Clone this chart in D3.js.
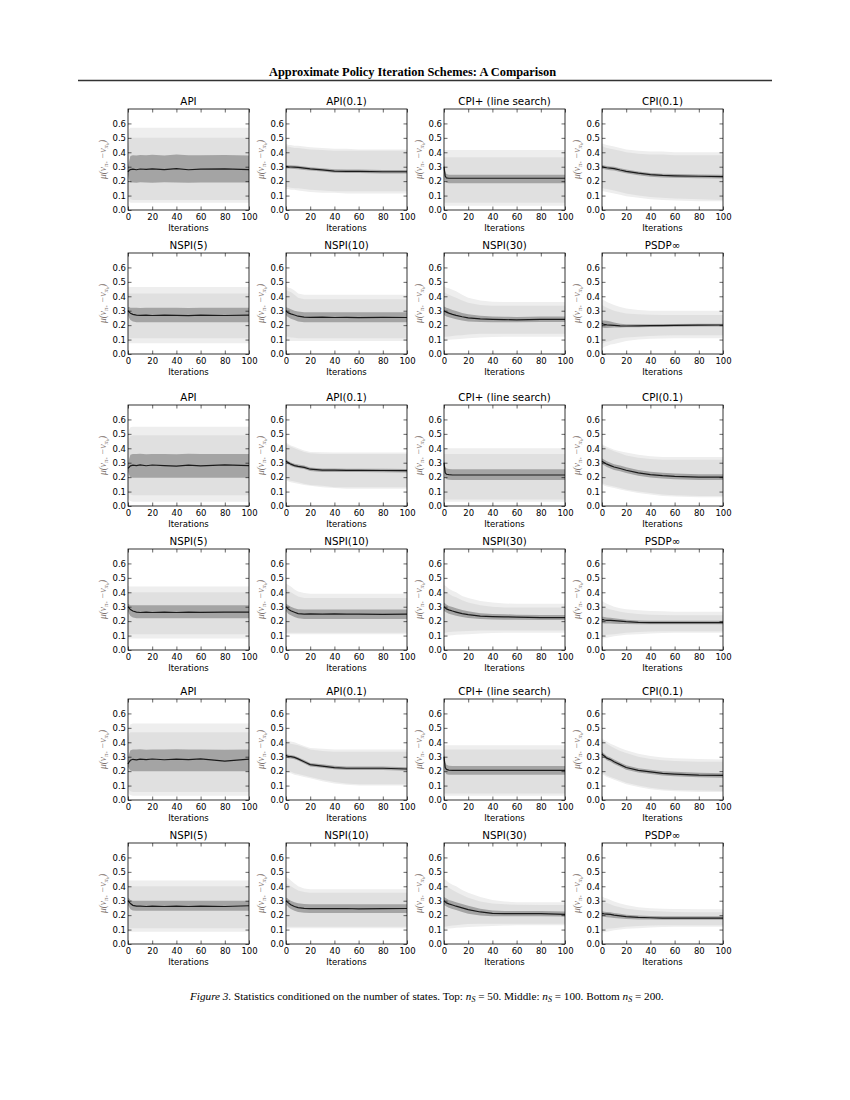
<!DOCTYPE html>
<html><head><meta charset="utf-8">
<script src="https://cdn.jsdelivr.net/npm/d3@7"></script>
<style>
body{margin:0;background:#fff;}
svg{display:block;}
.tick text{font-family:"DejaVu Sans",sans-serif;font-size:8.5px;fill:#000;}
</style></head>
<body>
<svg id="c" width="850" height="1100"></svg>
<script>
// ---------------- DATA ----------------
const iterations = [0,1,2,4,7,10,15,20,30,40,50,60,80,100];
const stateCounts = [50,100,200];
const titlesTop = ["API","API(0.1)","CPI+ (line search)","CPI(0.1)"];
const titlesBottom = ["NSPI(5)","NSPI(10)","NSPI(30)","PSDP\u221E"];
const xTicks = [0,20,40,60,80,100];
const yTicks = [0.0,0.1,0.2,0.3,0.4,0.5,0.6];

// order: API, API(0.1), CPI+, CPI(0.1), NSPI(5), NSPI(10), NSPI(30), PSDP
// ---- n_S = 50 ----
const mean50 = [
 [0.265,0.275,0.28,0.283,0.279,0.284,0.281,0.285,0.28,0.287,0.279,0.283,0.285,0.28],
 [0.30,0.30,0.299,0.298,0.297,0.295,0.29,0.285,0.278,0.27,0.268,0.268,0.265,0.265],
 [0.30,0.235,0.222,0.22,0.22,0.22,0.22,0.22,0.22,0.22,0.22,0.22,0.22,0.22],
 [0.30,0.298,0.296,0.293,0.29,0.287,0.277,0.268,0.255,0.245,0.24,0.237,0.234,0.232],
 [0.30,0.29,0.283,0.275,0.27,0.268,0.27,0.267,0.27,0.268,0.266,0.269,0.267,0.27],
 [0.30,0.29,0.285,0.278,0.27,0.262,0.255,0.254,0.255,0.253,0.254,0.252,0.254,0.253],
 [0.30,0.295,0.29,0.283,0.275,0.268,0.258,0.25,0.243,0.24,0.238,0.237,0.24,0.24],
 [0.212,0.208,0.205,0.202,0.2,0.198,0.195,0.194,0.195,0.196,0.197,0.198,0.2,0.201]];
const darkLo50 = [
 [0.245,0.21,0.19,0.19,0.188,0.192,0.19,0.188,0.192,0.19,0.189,0.191,0.19,0.19],
 [0.288,0.288,0.287,0.286,0.285,0.283,0.278,0.273,0.266,0.258,0.256,0.256,0.253,0.253],
 [0.28,0.2,0.188,0.185,0.185,0.185,0.185,0.185,0.185,0.185,0.185,0.185,0.185,0.185],
 [0.286,0.284,0.282,0.279,0.276,0.273,0.263,0.254,0.241,0.231,0.226,0.223,0.22,0.218],
 [0.27,0.25,0.235,0.225,0.22,0.22,0.22,0.22,0.22,0.22,0.22,0.22,0.22,0.22],
 [0.27,0.26,0.255,0.245,0.235,0.225,0.22,0.22,0.22,0.22,0.22,0.22,0.22,0.22],
 [0.27,0.265,0.26,0.255,0.248,0.24,0.232,0.226,0.222,0.22,0.22,0.22,0.222,0.222],
 [0.185,0.182,0.18,0.18,0.182,0.183,0.184,0.185,0.186,0.187,0.188,0.189,0.19,0.19]];
const darkHi50 = [
 [0.295,0.34,0.375,0.38,0.378,0.382,0.38,0.383,0.378,0.385,0.379,0.38,0.382,0.378],
 [0.312,0.312,0.311,0.31,0.309,0.307,0.302,0.297,0.29,0.282,0.28,0.28,0.277,0.277],
 [0.32,0.265,0.25,0.245,0.245,0.245,0.245,0.245,0.245,0.245,0.245,0.245,0.245,0.245],
 [0.312,0.31,0.308,0.305,0.302,0.299,0.289,0.28,0.267,0.257,0.252,0.249,0.246,0.244],
 [0.325,0.325,0.32,0.32,0.32,0.318,0.32,0.32,0.32,0.32,0.318,0.32,0.32,0.32],
 [0.325,0.32,0.318,0.31,0.3,0.295,0.29,0.29,0.29,0.29,0.29,0.29,0.29,0.29],
 [0.33,0.325,0.32,0.315,0.305,0.298,0.285,0.275,0.265,0.26,0.258,0.257,0.26,0.26],
 [0.23,0.232,0.232,0.23,0.225,0.218,0.21,0.207,0.207,0.207,0.208,0.208,0.21,0.21]];
const midLo50 = [
 [0.12,0.09,0.075,0.07,0.07,0.07,0.07,0.07,0.07,0.07,0.07,0.07,0.07,0.07],
 [0.16,0.16,0.16,0.155,0.15,0.15,0.145,0.14,0.135,0.13,0.13,0.13,0.13,0.13],
 [0.05,0.05,0.05,0.05,0.05,0.05,0.05,0.05,0.05,0.05,0.05,0.05,0.05,0.05],
 [0.15,0.15,0.148,0.145,0.14,0.135,0.125,0.115,0.1,0.09,0.085,0.08,0.075,0.07],
 [0.11,0.11,0.11,0.11,0.11,0.11,0.11,0.11,0.11,0.11,0.11,0.11,0.11,0.11],
 [0.12,0.12,0.118,0.115,0.112,0.11,0.11,0.11,0.11,0.11,0.11,0.11,0.11,0.11],
 [0.12,0.12,0.12,0.122,0.125,0.128,0.13,0.135,0.14,0.14,0.14,0.14,0.14,0.14],
 [0.07,0.075,0.08,0.085,0.09,0.1,0.11,0.115,0.12,0.125,0.128,0.13,0.13,0.13]];
const midHi50 = [
 [0.44,0.48,0.5,0.5,0.5,0.5,0.5,0.5,0.5,0.5,0.5,0.5,0.5,0.5],
 [0.44,0.44,0.44,0.435,0.43,0.43,0.425,0.42,0.415,0.41,0.41,0.41,0.41,0.41],
 [0.365,0.365,0.365,0.365,0.365,0.365,0.365,0.365,0.365,0.365,0.365,0.365,0.365,0.365],
 [0.44,0.44,0.435,0.43,0.425,0.42,0.41,0.4,0.39,0.385,0.385,0.38,0.38,0.38],
 [0.42,0.42,0.42,0.42,0.42,0.42,0.42,0.42,0.42,0.42,0.42,0.42,0.42,0.42],
 [0.44,0.44,0.435,0.43,0.41,0.39,0.38,0.38,0.38,0.38,0.38,0.38,0.38,0.38],
 [0.43,0.425,0.42,0.41,0.4,0.39,0.37,0.355,0.34,0.335,0.335,0.335,0.335,0.335],
 [0.34,0.335,0.33,0.32,0.31,0.3,0.29,0.28,0.275,0.272,0.27,0.27,0.27,0.27]];
const outLo50 = [
 [0.08,0.06,0.05,0.05,0.05,0.05,0.05,0.05,0.05,0.05,0.05,0.05,0.05,0.05],
 [0.145,0.145,0.145,0.14,0.14,0.135,0.13,0.125,0.12,0.12,0.115,0.115,0.115,0.115],
 [0.03,0.03,0.03,0.03,0.03,0.03,0.03,0.03,0.03,0.03,0.03,0.03,0.03,0.03],
 [0.13,0.13,0.128,0.125,0.12,0.115,0.105,0.095,0.085,0.075,0.07,0.065,0.06,0.06],
 [0.075,0.075,0.075,0.075,0.075,0.075,0.075,0.075,0.075,0.075,0.075,0.075,0.075,0.075],
 [0.10,0.095,0.09,0.09,0.09,0.09,0.09,0.09,0.09,0.09,0.09,0.09,0.09,0.09],
 [0.09,0.092,0.095,0.098,0.1,0.102,0.105,0.11,0.115,0.118,0.12,0.12,0.12,0.12],
 [0.04,0.045,0.05,0.055,0.065,0.07,0.08,0.09,0.1,0.105,0.108,0.11,0.11,0.11]];
const outHi50 = [
 [0.52,0.56,0.57,0.57,0.57,0.57,0.57,0.57,0.57,0.57,0.57,0.57,0.57,0.57],
 [0.455,0.455,0.45,0.45,0.445,0.445,0.44,0.435,0.43,0.425,0.425,0.42,0.42,0.42],
 [0.415,0.415,0.415,0.415,0.415,0.415,0.415,0.415,0.415,0.415,0.415,0.415,0.415,0.415],
 [0.46,0.46,0.455,0.45,0.445,0.44,0.43,0.42,0.41,0.405,0.405,0.40,0.40,0.40],
 [0.465,0.465,0.465,0.465,0.465,0.465,0.465,0.465,0.465,0.465,0.465,0.465,0.465,0.465],
 [0.47,0.465,0.46,0.455,0.44,0.42,0.41,0.41,0.41,0.41,0.41,0.41,0.41,0.41],
 [0.47,0.465,0.46,0.455,0.445,0.435,0.41,0.39,0.37,0.362,0.36,0.36,0.36,0.36],
 [0.38,0.375,0.37,0.36,0.35,0.34,0.325,0.315,0.305,0.3,0.3,0.3,0.3,0.3]];

// ---- n_S = 100 ----
const mean100 = [
 [0.26,0.27,0.278,0.283,0.28,0.285,0.279,0.284,0.28,0.277,0.283,0.278,0.285,0.28],
 [0.31,0.305,0.3,0.29,0.28,0.275,0.268,0.255,0.248,0.248,0.247,0.247,0.246,0.245],
 [0.30,0.23,0.22,0.217,0.215,0.215,0.215,0.215,0.215,0.215,0.215,0.215,0.215,0.215],
 [0.31,0.305,0.3,0.29,0.28,0.27,0.26,0.248,0.23,0.218,0.21,0.205,0.2,0.2],
 [0.30,0.29,0.28,0.27,0.263,0.26,0.262,0.26,0.263,0.26,0.262,0.261,0.263,0.262],
 [0.30,0.29,0.283,0.272,0.262,0.252,0.248,0.25,0.248,0.25,0.248,0.248,0.247,0.248],
 [0.30,0.292,0.285,0.278,0.27,0.263,0.252,0.245,0.235,0.232,0.23,0.228,0.225,0.225],
 [0.21,0.21,0.208,0.206,0.205,0.203,0.2,0.196,0.192,0.19,0.19,0.19,0.19,0.19]];
const darkLo100 = [
 [0.24,0.215,0.2,0.195,0.195,0.195,0.195,0.195,0.195,0.195,0.195,0.195,0.195,0.195],
 [0.298,0.293,0.288,0.278,0.268,0.263,0.256,0.243,0.236,0.236,0.235,0.235,0.234,0.233],
 [0.28,0.195,0.185,0.182,0.18,0.18,0.18,0.18,0.18,0.18,0.18,0.18,0.18,0.18],
 [0.29,0.285,0.28,0.27,0.26,0.25,0.24,0.228,0.21,0.198,0.19,0.185,0.18,0.18],
 [0.27,0.25,0.235,0.225,0.22,0.22,0.22,0.22,0.22,0.22,0.22,0.22,0.22,0.22],
 [0.27,0.26,0.25,0.24,0.228,0.22,0.215,0.215,0.215,0.215,0.215,0.215,0.215,0.215],
 [0.27,0.265,0.26,0.252,0.245,0.238,0.228,0.222,0.215,0.212,0.21,0.21,0.208,0.208],
 [0.185,0.185,0.184,0.183,0.183,0.182,0.181,0.18,0.178,0.178,0.178,0.178,0.178,0.178]];
const darkHi100 = [
 [0.29,0.33,0.355,0.36,0.36,0.362,0.358,0.36,0.36,0.358,0.362,0.36,0.36,0.36],
 [0.322,0.317,0.312,0.302,0.292,0.287,0.28,0.267,0.26,0.26,0.259,0.259,0.258,0.257],
 [0.32,0.27,0.26,0.256,0.255,0.255,0.255,0.255,0.255,0.255,0.255,0.255,0.255,0.255],
 [0.33,0.325,0.32,0.31,0.3,0.29,0.28,0.268,0.25,0.238,0.23,0.225,0.22,0.22],
 [0.32,0.315,0.31,0.31,0.31,0.31,0.31,0.31,0.31,0.31,0.31,0.31,0.31,0.31],
 [0.32,0.315,0.31,0.3,0.29,0.283,0.28,0.28,0.28,0.28,0.28,0.28,0.28,0.28],
 [0.33,0.322,0.315,0.305,0.298,0.29,0.278,0.268,0.255,0.25,0.248,0.245,0.242,0.242],
 [0.23,0.23,0.228,0.226,0.224,0.22,0.215,0.21,0.205,0.203,0.202,0.202,0.202,0.202]];
const midLo100 = [
 [0.1,0.085,0.08,0.075,0.075,0.075,0.075,0.075,0.075,0.075,0.075,0.075,0.075,0.075],
 [0.19,0.185,0.18,0.175,0.17,0.165,0.155,0.145,0.14,0.13,0.13,0.13,0.13,0.13],
 [0.045,0.045,0.045,0.045,0.045,0.045,0.045,0.045,0.045,0.045,0.045,0.045,0.045,0.045],
 [0.16,0.155,0.15,0.145,0.14,0.135,0.125,0.115,0.1,0.09,0.08,0.075,0.07,0.07],
 [0.11,0.11,0.11,0.11,0.11,0.11,0.11,0.11,0.11,0.11,0.11,0.11,0.11,0.11],
 [0.12,0.12,0.12,0.12,0.12,0.12,0.12,0.12,0.12,0.12,0.12,0.12,0.12,0.12],
 [0.12,0.12,0.122,0.124,0.126,0.128,0.13,0.132,0.135,0.135,0.135,0.135,0.135,0.135],
 [0.1,0.1,0.102,0.105,0.108,0.11,0.115,0.12,0.125,0.128,0.13,0.13,0.13,0.13]];
const midHi100 = [
 [0.44,0.47,0.485,0.49,0.49,0.49,0.49,0.49,0.49,0.49,0.49,0.49,0.49,0.49],
 [0.43,0.425,0.42,0.41,0.4,0.39,0.375,0.365,0.36,0.36,0.36,0.36,0.36,0.36],
 [0.36,0.36,0.36,0.36,0.36,0.36,0.36,0.36,0.36,0.36,0.36,0.36,0.36,0.36],
 [0.42,0.415,0.41,0.4,0.39,0.38,0.365,0.35,0.335,0.325,0.32,0.32,0.32,0.32],
 [0.40,0.40,0.40,0.40,0.40,0.40,0.40,0.40,0.40,0.40,0.40,0.40,0.40,0.40],
 [0.42,0.415,0.41,0.4,0.385,0.37,0.36,0.36,0.36,0.36,0.36,0.36,0.36,0.36],
 [0.41,0.405,0.4,0.39,0.375,0.365,0.345,0.33,0.31,0.3,0.295,0.295,0.295,0.295],
 [0.3,0.298,0.295,0.29,0.28,0.275,0.265,0.258,0.25,0.245,0.242,0.24,0.24,0.24]];
const outLo100 = [
 [0.06,0.04,0.035,0.03,0.03,0.03,0.03,0.03,0.03,0.03,0.03,0.03,0.03,0.03],
 [0.18,0.175,0.17,0.165,0.16,0.155,0.145,0.14,0.13,0.125,0.12,0.12,0.12,0.12],
 [0.03,0.03,0.03,0.03,0.03,0.03,0.03,0.03,0.03,0.03,0.03,0.03,0.03,0.03],
 [0.15,0.145,0.14,0.135,0.13,0.125,0.115,0.105,0.09,0.08,0.07,0.065,0.06,0.06],
 [0.08,0.08,0.08,0.08,0.08,0.08,0.08,0.08,0.08,0.08,0.08,0.08,0.08,0.08],
 [0.11,0.11,0.11,0.11,0.11,0.11,0.11,0.11,0.11,0.11,0.11,0.11,0.11,0.11],
 [0.09,0.092,0.095,0.1,0.102,0.105,0.108,0.11,0.115,0.118,0.12,0.12,0.12,0.12],
 [0.08,0.08,0.082,0.085,0.09,0.095,0.1,0.105,0.11,0.115,0.118,0.12,0.12,0.12]];
const outHi100 = [
 [0.5,0.53,0.545,0.55,0.55,0.55,0.55,0.55,0.55,0.55,0.55,0.55,0.55,0.55],
 [0.44,0.435,0.43,0.42,0.41,0.4,0.385,0.375,0.372,0.37,0.37,0.37,0.37,0.37],
 [0.40,0.40,0.40,0.40,0.40,0.40,0.40,0.40,0.40,0.40,0.40,0.40,0.40,0.40],
 [0.43,0.425,0.42,0.41,0.4,0.39,0.38,0.37,0.355,0.345,0.34,0.34,0.34,0.34],
 [0.445,0.44,0.44,0.44,0.44,0.44,0.44,0.44,0.44,0.44,0.44,0.44,0.44,0.44],
 [0.46,0.455,0.45,0.44,0.42,0.405,0.395,0.39,0.39,0.39,0.39,0.39,0.39,0.39],
 [0.45,0.445,0.44,0.425,0.41,0.4,0.375,0.36,0.34,0.33,0.322,0.32,0.32,0.32],
 [0.34,0.335,0.33,0.32,0.31,0.3,0.29,0.283,0.275,0.27,0.268,0.265,0.265,0.265]];

// ---- n_S = 200 ----
const mean200 = [
 [0.25,0.265,0.275,0.282,0.278,0.283,0.28,0.284,0.279,0.283,0.28,0.285,0.27,0.283],
 [0.31,0.305,0.302,0.3,0.295,0.285,0.265,0.245,0.235,0.225,0.22,0.22,0.22,0.215],
 [0.30,0.225,0.212,0.207,0.205,0.205,0.205,0.205,0.205,0.205,0.205,0.205,0.205,0.205],
 [0.32,0.31,0.305,0.29,0.28,0.265,0.245,0.225,0.205,0.195,0.185,0.18,0.173,0.17],
 [0.30,0.29,0.28,0.268,0.262,0.262,0.26,0.262,0.26,0.263,0.26,0.262,0.26,0.265],
 [0.30,0.292,0.285,0.272,0.26,0.252,0.247,0.245,0.245,0.245,0.246,0.244,0.245,0.246],
 [0.30,0.292,0.285,0.278,0.27,0.262,0.25,0.238,0.222,0.212,0.21,0.21,0.21,0.205],
 [0.21,0.21,0.208,0.207,0.205,0.2,0.195,0.19,0.185,0.182,0.18,0.18,0.18,0.18]];
const darkLo200 = [
 [0.23,0.215,0.205,0.2,0.2,0.2,0.2,0.2,0.2,0.2,0.2,0.2,0.2,0.2],
 [0.298,0.293,0.29,0.288,0.283,0.273,0.253,0.233,0.223,0.213,0.208,0.208,0.208,0.203],
 [0.28,0.19,0.178,0.175,0.175,0.175,0.175,0.175,0.175,0.175,0.175,0.175,0.175,0.175],
 [0.305,0.295,0.29,0.275,0.265,0.25,0.23,0.21,0.19,0.18,0.17,0.165,0.158,0.155],
 [0.27,0.255,0.24,0.232,0.23,0.23,0.23,0.23,0.23,0.23,0.23,0.23,0.23,0.23],
 [0.27,0.265,0.255,0.242,0.23,0.222,0.217,0.215,0.215,0.215,0.215,0.215,0.215,0.215],
 [0.27,0.265,0.26,0.252,0.243,0.235,0.222,0.21,0.198,0.193,0.192,0.192,0.192,0.19],
 [0.19,0.19,0.188,0.186,0.183,0.18,0.177,0.174,0.17,0.169,0.168,0.168,0.168,0.168]];
const darkHi200 = [
 [0.28,0.32,0.345,0.35,0.35,0.352,0.348,0.35,0.35,0.352,0.35,0.35,0.348,0.35],
 [0.322,0.317,0.314,0.312,0.307,0.297,0.277,0.257,0.247,0.237,0.232,0.232,0.232,0.227],
 [0.32,0.26,0.245,0.238,0.235,0.235,0.235,0.235,0.235,0.235,0.235,0.235,0.235,0.235],
 [0.335,0.325,0.32,0.305,0.295,0.28,0.26,0.24,0.22,0.21,0.2,0.195,0.188,0.185],
 [0.32,0.315,0.305,0.3,0.3,0.3,0.3,0.3,0.3,0.3,0.3,0.3,0.3,0.3],
 [0.32,0.318,0.31,0.3,0.29,0.282,0.277,0.275,0.275,0.275,0.275,0.275,0.275,0.275],
 [0.325,0.32,0.315,0.305,0.298,0.29,0.278,0.265,0.245,0.232,0.228,0.228,0.228,0.225],
 [0.225,0.225,0.224,0.222,0.22,0.215,0.21,0.203,0.197,0.194,0.192,0.192,0.192,0.192]];
const midLo200 = [
 [0.09,0.07,0.06,0.055,0.055,0.055,0.055,0.055,0.055,0.055,0.055,0.055,0.055,0.055],
 [0.21,0.205,0.2,0.195,0.185,0.18,0.17,0.16,0.14,0.125,0.115,0.11,0.11,0.11],
 [0.045,0.045,0.045,0.045,0.045,0.045,0.045,0.045,0.045,0.045,0.045,0.045,0.045,0.045],
 [0.19,0.185,0.18,0.17,0.16,0.15,0.135,0.12,0.1,0.085,0.075,0.07,0.065,0.062],
 [0.11,0.11,0.11,0.11,0.11,0.11,0.11,0.11,0.11,0.11,0.11,0.11,0.11,0.11],
 [0.12,0.12,0.12,0.12,0.12,0.12,0.12,0.12,0.12,0.12,0.12,0.12,0.12,0.12],
 [0.12,0.12,0.122,0.125,0.128,0.13,0.135,0.138,0.14,0.14,0.14,0.14,0.14,0.14],
 [0.1,0.1,0.102,0.105,0.108,0.11,0.115,0.12,0.125,0.128,0.13,0.13,0.13,0.13]];
const midHi200 = [
 [0.43,0.46,0.47,0.47,0.47,0.47,0.47,0.47,0.47,0.47,0.47,0.47,0.47,0.47],
 [0.40,0.398,0.395,0.39,0.385,0.38,0.365,0.35,0.34,0.335,0.335,0.335,0.335,0.335],
 [0.35,0.35,0.35,0.35,0.35,0.35,0.35,0.35,0.35,0.35,0.35,0.35,0.35,0.35],
 [0.42,0.41,0.4,0.39,0.375,0.36,0.34,0.325,0.3,0.285,0.275,0.27,0.265,0.265],
 [0.40,0.40,0.40,0.40,0.40,0.40,0.40,0.40,0.40,0.40,0.40,0.40,0.40,0.40],
 [0.42,0.415,0.41,0.4,0.385,0.37,0.36,0.355,0.355,0.355,0.355,0.355,0.355,0.355],
 [0.41,0.405,0.4,0.39,0.375,0.36,0.34,0.32,0.295,0.28,0.275,0.272,0.27,0.27],
 [0.30,0.295,0.29,0.285,0.275,0.265,0.255,0.245,0.235,0.228,0.225,0.222,0.22,0.22]];
const outLo200 = [
 [0.06,0.04,0.035,0.03,0.03,0.03,0.03,0.03,0.03,0.03,0.03,0.03,0.03,0.03],
 [0.195,0.19,0.188,0.185,0.175,0.17,0.16,0.15,0.13,0.115,0.105,0.10,0.10,0.10],
 [0.03,0.03,0.03,0.03,0.03,0.03,0.03,0.03,0.03,0.03,0.03,0.03,0.03,0.03],
 [0.18,0.175,0.17,0.16,0.15,0.14,0.125,0.11,0.09,0.075,0.065,0.06,0.055,0.055],
 [0.085,0.085,0.085,0.085,0.085,0.085,0.085,0.085,0.085,0.085,0.085,0.085,0.085,0.085],
 [0.11,0.11,0.11,0.11,0.11,0.11,0.11,0.11,0.11,0.11,0.11,0.11,0.11,0.11],
 [0.10,0.102,0.105,0.108,0.11,0.112,0.115,0.118,0.122,0.125,0.128,0.13,0.13,0.13],
 [0.08,0.08,0.082,0.085,0.09,0.095,0.1,0.105,0.11,0.115,0.118,0.12,0.12,0.12]];
const outHi200 = [
 [0.48,0.51,0.525,0.53,0.53,0.53,0.53,0.53,0.53,0.53,0.53,0.53,0.53,0.53],
 [0.415,0.412,0.41,0.405,0.4,0.39,0.375,0.36,0.355,0.35,0.35,0.35,0.35,0.35],
 [0.38,0.38,0.38,0.38,0.38,0.38,0.38,0.38,0.38,0.38,0.38,0.38,0.38,0.38],
 [0.43,0.42,0.415,0.405,0.39,0.38,0.36,0.345,0.32,0.305,0.295,0.29,0.285,0.28],
 [0.44,0.44,0.44,0.44,0.44,0.44,0.44,0.44,0.44,0.44,0.44,0.44,0.44,0.44],
 [0.47,0.46,0.455,0.44,0.42,0.40,0.385,0.38,0.38,0.38,0.38,0.38,0.38,0.38],
 [0.45,0.445,0.44,0.425,0.41,0.4,0.375,0.355,0.325,0.305,0.295,0.29,0.29,0.29],
 [0.33,0.325,0.32,0.315,0.305,0.295,0.28,0.27,0.255,0.248,0.245,0.242,0.24,0.24]];

// ---------------- LAYOUT ----------------
const groups = [
 {mean:mean50, dLo:darkLo50, dHi:darkHi50, mLo:midLo50, mHi:midHi50, oLo:outLo50, oHi:outHi50},
 {mean:mean100, dLo:darkLo100, dHi:darkHi100, mLo:midLo100, mHi:midHi100, oLo:outLo100, oHi:outHi100},
 {mean:mean200, dLo:darkLo200, dHi:darkHi200, mLo:midLo200, mHi:midHi200, oLo:outLo200, oHi:outHi200}
];
const colLeft = [128,286,444,602];
const rowTop = [109,253,405,549,699,843];
const PW = 121, PH = 101;

const svg = d3.select("#c");
svg.append("rect").attr("width",850).attr("height",1100).attr("fill","#fff");

// header
svg.append("text").attr("x",269).attr("y",76)
  .style("font-family","'Liberation Serif','Times New Roman',serif").style("font-weight","bold")
  .style("font-size","12.4px").text("Approximate Policy Iteration Schemes: A Comparison");
svg.append("line").attr("x1",78).attr("x2",772).attr("y1",80.5).attr("y2",80.5)
  .attr("stroke","#333").attr("stroke-width",1.6);

const x = d3.scaleLinear().domain([0,100]).range([0,PW]);
const y = d3.scaleLinear().domain([0,0.7]).range([PH,0]);

const colors = {out:"#eeeeee", mid:"#e0e0e0", dark:"#a4a4a4"};

function band(lo,hi){
  return d3.area().x((d,i)=>x(iterations[i])).y0((d,i)=>y(lo[i])).y1((d,i)=>y(hi[i]))(lo);
}

groups.forEach((g,gi)=>{
  for(let r=0;r<2;r++){
    for(let c=0;c<4;c++){
      const s = r*4+c;
      const title = (r===0?titlesTop:titlesBottom)[c];
      const p = svg.append("g").attr("transform",`translate(${colLeft[c]},${rowTop[gi*2+r]})`);
      p.append("path").attr("d",band(g.oLo[s],g.oHi[s])).attr("fill",colors.out);
      p.append("path").attr("d",band(g.mLo[s],g.mHi[s])).attr("fill",colors.mid);
      p.append("path").attr("d",band(g.dLo[s],g.dHi[s])).attr("fill",colors.dark);
      p.append("path").attr("d",d3.line().x((d,i)=>x(iterations[i])).y(d=>y(d))(g.mean[s]))
        .attr("fill","none").attr("stroke","#1a1a1a").attr("stroke-width",1.2);

      // axes
      const ax = p.append("g").attr("transform",`translate(0,${PH})`)
        .call(d3.axisBottom(x).tickValues(xTicks).tickSizeInner(-3.5).tickSizeOuter(0).tickPadding(3).tickFormat(d3.format("d")));
      const at = p.append("g")
        .call(d3.axisTop(x).tickValues(xTicks).tickSizeInner(-3.5).tickSizeOuter(0).tickFormat(""));
      const ay = p.append("g")
        .call(d3.axisLeft(y).tickValues(yTicks).tickSizeInner(-3.5).tickSizeOuter(0).tickPadding(2).tickFormat(d3.format(".1f")));
      const ar = p.append("g").attr("transform",`translate(${PW},0)`)
        .call(d3.axisRight(y).tickValues(yTicks).tickSizeInner(-3.5).tickSizeOuter(0).tickFormat(""));
      [ax,at,ay,ar].forEach(a=>{a.select(".domain").remove(); a.selectAll("line").attr("stroke","#000").attr("stroke-width",0.6);});
      ax.selectAll("text").attr("dy","0.85em");
      p.append("rect").attr("width",PW).attr("height",PH).attr("fill","none").attr("stroke","#000").attr("stroke-width",0.8);

      // title
      p.append("text").attr("x",PW/2).attr("y",-4).attr("text-anchor","middle")
        .style("font-family","'DejaVu Sans',sans-serif").style("font-size","10.3px").text(title);
      // x label
      p.append("text").attr("x",PW/2).attr("y",PH+21).attr("text-anchor","middle")
        .style("font-family","'DejaVu Sans',sans-serif").style("font-size","8.5px").text("Iterations");
      // y label
      const yl = p.append("text").attr("transform",`translate(-22,${PH/2}) rotate(-90)`).attr("text-anchor","middle")
        .style("font-family","'Liberation Serif','DejaVu Serif',serif").style("font-style","italic")
        .style("font-size","9.5px").attr("fill","#7d716c");
      yl.append("tspan").text("\u03BC(v");
      yl.append("tspan").attr("dy","2").style("font-size","6.5px").text("\u03C0");
      yl.append("tspan").attr("dy","1").style("font-size","4.5px").text("*");
      yl.append("tspan").attr("dy","-3").text(" \u2212v");
      yl.append("tspan").attr("dy","2").style("font-size","6.5px").text("\u03C0");
      yl.append("tspan").attr("dy","1").style("font-size","4.5px").text("k");
      yl.append("tspan").attr("dy","-3").text(")");
    }
  }
});

// caption
const cap = svg.append("text").attr("x",190).attr("y",1000)
  .style("font-family","'Liberation Serif','Times New Roman',serif").style("font-size","11.2px");
cap.append("tspan").style("font-style","italic").text("Figure 3.");
cap.append("tspan").text(" Statistics conditioned on the number of states. Top: ");
function nS(){ cap.append("tspan").style("font-style","italic").text("n");
  cap.append("tspan").attr("dy","2").style("font-style","italic").style("font-size","8px").text("S");
  cap.append("tspan").attr("dy","-2").text(" = "); }
nS(); cap.append("tspan").text("50. Middle: ");
nS(); cap.append("tspan").text("100. Bottom ");
nS(); cap.append("tspan").text("200.");
</script>
</body></html>
